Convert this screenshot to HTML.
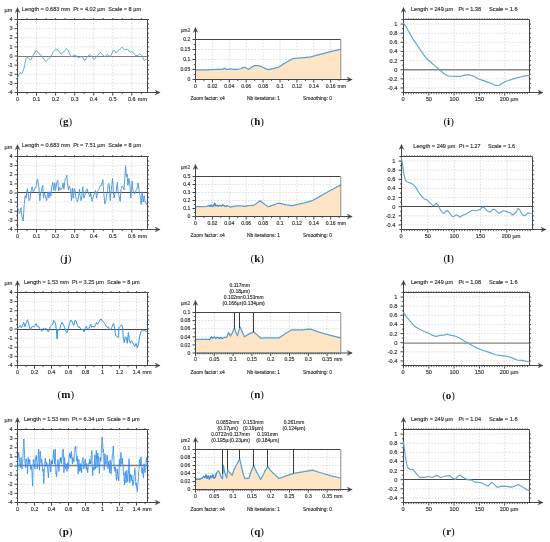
<!DOCTYPE html>
<html lang="en">
<head>
<meta charset="utf-8">
<title>Figure panels g-r</title>
<style>
html,body{margin:0;padding:0;background:#fff;}
body{width:550px;height:542px;overflow:hidden;}
svg{display:block;}
path{fill:none;}
text{white-space:pre;font-family:"Liberation Sans",sans-serif;fill:#303030;stroke:#303030;stroke-width:0.15px;}
.t1{font-size:5.5px;}
.t2{font-size:5.1px;}
.t3{font-size:5.6px;}
.lab{font-family:"Liberation Serif",serif;font-size:11px;fill:#111;stroke:none;}
.b{font-weight:bold;}
.cv{fill:none;stroke-linejoin:round;stroke-linecap:round;}
.ar{fill:#454545;stroke:#454545;stroke-width:0.3;stroke-linejoin:miter;}
.s0{stroke:#d4d4d4;stroke-width:0.8;stroke-dasharray:1.5 1.6;}
.s1{stroke:#7d7d7d;stroke-width:1.2;}
.s2{stroke:#454545;stroke-width:1.0;}
.s3{stroke:#454545;stroke-width:0.9;}
.s4{stroke:#4a4a4a;stroke-width:1.0;}
.s5{stroke:#7d7d7d;stroke-width:1.3;}
.s6{stroke:#707070;stroke-width:0.8;}
.s7{stroke:#3a3a3a;stroke-width:1.0;}
.s8{stroke:#858585;stroke-width:1.4;}
.s9{stroke:#5c5c5c;stroke-width:0.75;}
</style>
</head>
<body>
<svg width="550" height="542" viewBox="0 0 550 542">
<rect width="550" height="542" fill="#fff"/>
<g class="ch">
<g>
<path class="s0" d="M36.55 19.5V92.5M55.6 19.5V92.5M74.65 19.5V92.5M93.7 19.5V92.5M112.75 19.5V92.5M131.8 19.5V92.5M17.5 28.62H147.5M17.5 37.75H147.5M17.5 46.88H147.5M17.5 65.12H147.5M17.5 74.25H147.5M17.5 83.38H147.5"/>
<path class="s1" d="M17.5 56.5H147.5"/>
<path class="s2" d="M17.5 19.5H147.5M147.5 19.5V92.5M14.5 19.5H17.5M14.5 28.62H17.5M14.5 37.75H17.5M14.5 46.88H17.5M14.5 56H17.5M14.5 65.12H17.5M14.5 74.25H17.5M14.5 83.38H17.5M14.5 92.5H17.5M17.5 92.5V95.6M36.55 92.5V95.6M55.6 92.5V95.6M74.65 92.5V95.6M93.7 92.5V95.6M112.75 92.5V95.6M131.8 92.5V95.6M17.5 92.5V8.2M17.5 92.5H159.8"/>
<path class="s3" d="M147.5 19.5H149.1M15.9 24.06H17.5M147.5 24.06H149.1M147.5 28.62H149.1M15.9 33.19H17.5M147.5 33.19H149.1M147.5 37.75H149.1M15.9 42.31H17.5M147.5 42.31H149.1M147.5 46.88H149.1M15.9 51.44H17.5M147.5 51.44H149.1M147.5 56H149.1M15.9 60.56H17.5M147.5 60.56H149.1M147.5 65.12H149.1M15.9 69.69H17.5M147.5 69.69H149.1M147.5 74.25H149.1M15.9 78.81H17.5M147.5 78.81H149.1M147.5 83.38H149.1M15.9 87.94H17.5M147.5 87.94H149.1M147.5 92.5H149.1M27.02 92.5V94.1M27.02 18V19.5M36.55 18V19.5M46.08 92.5V94.1M46.08 18V19.5M55.6 18V19.5M65.12 92.5V94.1M65.12 18V19.5M74.65 18V19.5M84.17 92.5V94.1M84.17 18V19.5M93.7 18V19.5M103.23 92.5V94.1M103.23 18V19.5M112.75 18V19.5M122.28 92.5V94.1M122.28 18V19.5M131.8 18V19.5M141.32 92.5V94.1M141.32 18V19.5"/>
<path class="ar" d="M15.1 12.8L17.5 7.6L19.9 12.8L17.5 11ZM155 90.1L160.2 92.5L155 94.9L156.8 92.5Z"/>
<polyline class="cv" points="17.56,77.35 20.36,72.26 21.64,73.91 23.55,70.09 24.82,64.36 26.09,58.26 27.75,57.36 30.55,60.29 33.09,55.46 36.27,49.98 38.18,52.91 40.73,54.82 45.82,61.56 48.36,59.27 50.91,56.73 53.46,51.64 55.36,49.73 57.91,49.98 61.09,54.18 63,52.27 64.27,51.64 66.44,48.45 68.73,51 70.64,56.73 72.55,56.09 73.82,55.46 75.09,55.2 78.91,58 80,56.73 82.55,56.98 84.84,60.8 87.64,56.09 90.18,54.44 92.09,56.73 94.25,59.53 96.55,56.73 100.36,52.27 102.27,54.82 104.82,56.73 106.98,54.44 109.91,56.47 111.18,55.46 113.09,50.36 114.36,50.36 116.27,53.16 118.18,51 122,47.18 124.55,49.73 127.35,49.09 130.27,52.27 132.18,51.64 135.36,55.46 137.91,55.46 139.56,53.93 141.73,55.46 144.27,60.55 146.18,59.27 147.2,59.91" stroke="#5fa4d8" stroke-width="0.95"/>
<text class="t1" x="12.6" y="21.17" text-anchor="end">4</text>
<text class="t1" x="12.6" y="30.3" text-anchor="end">3</text>
<text class="t1" x="12.6" y="39.42" text-anchor="end">2</text>
<text class="t1" x="12.6" y="48.55" text-anchor="end">1</text>
<text class="t1" x="12.6" y="57.67" text-anchor="end">0</text>
<text class="t1" x="12.6" y="66.8" text-anchor="end">-1</text>
<text class="t1" x="12.6" y="75.92" text-anchor="end">-2</text>
<text class="t1" x="12.6" y="85.05" text-anchor="end">-3</text>
<text class="t1" x="12.6" y="94.17" text-anchor="end">-4</text>
<text class="t1" x="17.5" y="101.17" text-anchor="middle">0</text>
<text class="t1" x="36.55" y="101.17" text-anchor="middle">0.1</text>
<text class="t1" x="55.6" y="101.17" text-anchor="middle">0.2</text>
<text class="t1" x="74.65" y="101.17" text-anchor="middle">0.3</text>
<text class="t1" x="93.7" y="101.17" text-anchor="middle">0.4</text>
<text class="t1" x="112.75" y="101.17" text-anchor="middle">0.5</text>
<text class="t1" x="131.8" y="101.17" text-anchor="middle">0.6</text>
<text class="t1" x="137.8" y="101.17">mm</text>
<text class="t1" x="4.6" y="12.37">&#181;m</text>
<text class="t1" x="22" y="10.97" textLength="119.1" lengthAdjust="spacingAndGlyphs" xml:space="preserve">Length = 0.683 mm  Pt = 4.02 &#181;m  Scale = 8 &#181;m</text>
</g>
<g>
<path class="s0" d="M36.55 156.5V229.5M55.6 156.5V229.5M74.65 156.5V229.5M93.7 156.5V229.5M112.75 156.5V229.5M131.8 156.5V229.5M17.5 165.62H147.5M17.5 174.75H147.5M17.5 183.88H147.5M17.5 202.12H147.5M17.5 211.25H147.5M17.5 220.38H147.5"/>
<path class="s4" d="M17.5 192.5H147.5"/>
<path class="s2" d="M17.5 156.5H147.5M147.5 156.5V229.5M14.5 156.5H17.5M14.5 165.62H17.5M14.5 174.75H17.5M14.5 183.88H17.5M14.5 193H17.5M14.5 202.12H17.5M14.5 211.25H17.5M14.5 220.38H17.5M14.5 229.5H17.5M17.5 229.5V232.6M36.55 229.5V232.6M55.6 229.5V232.6M74.65 229.5V232.6M93.7 229.5V232.6M112.75 229.5V232.6M131.8 229.5V232.6M17.5 229.5V145.2M17.5 229.5H159.8"/>
<path class="s3" d="M147.5 156.5H149.1M15.9 161.06H17.5M147.5 161.06H149.1M147.5 165.62H149.1M15.9 170.19H17.5M147.5 170.19H149.1M147.5 174.75H149.1M15.9 179.31H17.5M147.5 179.31H149.1M147.5 183.88H149.1M15.9 188.44H17.5M147.5 188.44H149.1M147.5 193H149.1M15.9 197.56H17.5M147.5 197.56H149.1M147.5 202.12H149.1M15.9 206.69H17.5M147.5 206.69H149.1M147.5 211.25H149.1M15.9 215.81H17.5M147.5 215.81H149.1M147.5 220.38H149.1M15.9 224.94H17.5M147.5 224.94H149.1M147.5 229.5H149.1M27.02 229.5V231.1M27.02 155V156.5M36.55 155V156.5M46.08 229.5V231.1M46.08 155V156.5M55.6 155V156.5M65.12 229.5V231.1M65.12 155V156.5M74.65 155V156.5M84.17 229.5V231.1M84.17 155V156.5M93.7 155V156.5M103.23 229.5V231.1M103.23 155V156.5M112.75 155V156.5M122.28 229.5V231.1M122.28 155V156.5M131.8 155V156.5M141.32 229.5V231.1M141.32 155V156.5"/>
<path class="ar" d="M15.1 149.8L17.5 144.6L19.9 149.8L17.5 148ZM155 227.1L160.2 229.5L155 231.9L156.8 229.5Z"/>
<polyline class="cv" points="17.56,207.09 18,208.94 18.45,209.64 18.9,211.1 19.35,213.46 19.86,212.7 20.36,210.27 20.68,208.61 21,207.73 21.45,212.61 21.89,216 22.52,217.93 23.16,221.09 23.67,213.19 24.18,204.55 24.69,199.37 25.2,195.64 25.64,197.27 26.09,198.18 26.73,192.75 27.36,188.64 27.8,191.88 28.25,194.36 28.63,197.15 29.02,200.73 29.66,199.48 30.29,196.91 30.73,192.76 31.18,190.55 31.62,189.07 32.07,186.73 32.58,188.77 33.09,191.82 33.73,191.68 34.36,189.91 35.12,187.58 35.89,187.36 36.27,185.27 36.65,181.64 37.16,179.73 37.67,179.09 38.05,182.72 38.44,184.18 38.82,187 39.2,190.55 39.52,196.63 39.84,200.73 40.28,196.36 40.73,193.09 41.24,191.62 41.75,189.27 42.25,186.94 42.76,185.46 43.14,192.39 43.53,198.18 44.04,194.68 44.55,193.09 45.05,195.47 45.56,196.91 46.07,198.04 46.58,200.73 46.97,198.37 47.35,194.36 47.73,192.47 48.11,191.82 48.55,195.75 49,198.18 49.45,194.62 49.89,191.82 50.4,194.42 50.91,196.27 51.29,191.01 51.67,186.73 52.18,185.35 52.69,182.27 53.2,185.75 53.71,190.55 54.22,187.3 54.73,182.91 55.11,185.95 55.49,190.55 56,188.04 56.51,184.18 57.14,181.71 57.78,180.36 58.29,186.71 58.8,191.18 59.31,188.4 59.82,187.36 60.33,189.15 60.84,189.91 61.35,188.5 61.86,188.64 62.5,186.51 63.13,182.91 63.51,185.09 63.89,189.27 64.4,185.71 64.91,180.36 65.42,178.54 65.93,177.82 66.31,177.63 66.69,175.27 67.07,178.35 67.46,182.27 67.97,186.74 68.47,189.91 68.98,187.09 69.49,186.09 70,188.45 70.51,189.91 71.02,194.61 71.53,200.73 71.91,194.73 72.29,188 72.8,192.25 73.31,198.18 73.69,194.33 74.07,188.64 74.58,188.82 75.09,190.55 75.6,195.37 76.11,198.18 76.75,199.52 77.38,202 78.02,199.69 78.66,195.64 79.1,191.67 79.55,189.27 79.78,193.23 80,195.64 80.51,197.5 81.02,200.73 81.47,199.16 81.91,195.64 82.35,190.13 82.8,186.73 83.31,193.15 83.82,198.18 84.45,195.43 85.09,194.36 85.6,192.83 86.11,190.55 86.75,189.04 87.38,189.27 87.89,192.01 88.4,193.09 89.03,193.91 89.67,196.91 90.18,195.96 90.69,193.09 91.32,196.68 91.96,201.36 92.6,199.76 93.24,196.91 93.75,194.79 94.25,194.36 94.89,192.8 95.53,190.55 96.04,193.68 96.55,198.18 97.06,195.46 97.56,191.82 98.07,190.44 98.58,189.91 99.22,188.7 99.85,186.73 100.36,185.49 100.87,186.09 101.38,185.56 101.89,184.18 102.4,181.43 102.91,179.73 103.29,186.41 103.67,191.82 104.18,196.86 104.69,203.91 105.32,202.71 105.96,200.73 106.47,196.23 106.98,193.09 107.62,189.39 108.26,184.18 108.77,183.49 109.27,184.82 109.78,193.74 110.29,200.73 110.8,194 111.31,189.27 111.94,184.4 112.58,178.45 112.97,184.49 113.35,191.82 113.73,195.61 114.11,198.18 114.62,194.62 115.13,193.09 115.77,192.89 116.4,190.55 116.91,185.96 117.42,182.27 117.8,188.15 118.18,193.09 118.69,194.49 119.2,196.91 119.71,199.64 120.22,201.36 120.6,194.61 120.98,189.27 121.49,188.46 122,186.09 122.63,186.19 123.27,187.36 123.66,188.97 124.04,189.91 124.42,183.85 124.8,179.09 125.18,173.02 125.56,165.73 125.94,170.37 126.33,176.55 126.71,176.34 127.09,174 127.47,178.87 127.86,185.46 128.37,182.68 128.87,178.45 129.38,180.51 129.89,184.18 130.4,192.03 130.91,198.18 131.55,189.22 132.18,181 132.56,186.8 132.95,190.55 133.45,190.89 133.96,193.09 134.73,193.78 135.49,192.46 136.12,189.92 136.76,189.27 137.4,186.72 138.04,182.91 138.55,186.09 139.06,190.55 139.56,193.5 140.07,195.64 140.58,199.28 141.09,204.55 141.6,198.56 142.11,191.82 142.62,196.53 143.13,202 143.64,199.31 144.15,195.64 144.66,198.69 145.16,202.64 145.67,203.55 146.18,203.27 146.56,203.54 146.95,204.55" stroke="#4a96dc" stroke-width="0.95"/>
<text class="t1" x="12.6" y="157.77" text-anchor="end">4</text>
<text class="t1" x="12.6" y="166.9" text-anchor="end">3</text>
<text class="t1" x="12.6" y="176.02" text-anchor="end">2</text>
<text class="t1" x="12.6" y="185.15" text-anchor="end">1</text>
<text class="t1" x="12.6" y="194.27" text-anchor="end">0</text>
<text class="t1" x="12.6" y="203.4" text-anchor="end">-1</text>
<text class="t1" x="12.6" y="212.52" text-anchor="end">-2</text>
<text class="t1" x="12.6" y="221.65" text-anchor="end">-3</text>
<text class="t1" x="12.6" y="230.77" text-anchor="end">-4</text>
<text class="t1" x="17.5" y="237.77" text-anchor="middle">0</text>
<text class="t1" x="36.55" y="237.77" text-anchor="middle">0.1</text>
<text class="t1" x="55.6" y="237.77" text-anchor="middle">0.2</text>
<text class="t1" x="74.65" y="237.77" text-anchor="middle">0.3</text>
<text class="t1" x="93.7" y="237.77" text-anchor="middle">0.4</text>
<text class="t1" x="112.75" y="237.77" text-anchor="middle">0.5</text>
<text class="t1" x="131.8" y="237.77" text-anchor="middle">0.6</text>
<text class="t1" x="137.8" y="237.77">mm</text>
<text class="t1" x="4.6" y="148.97">&#181;m</text>
<text class="t1" x="22" y="147.47" textLength="119.1" lengthAdjust="spacingAndGlyphs" xml:space="preserve">Length = 0.683 mm  Pt = 7.51 &#181;m  Scale = 8 &#181;m</text>
</g>
<g>
<path class="s0" d="M34.5 292.5V365.5M51.5 292.5V365.5M68.5 292.5V365.5M85.5 292.5V365.5M102.5 292.5V365.5M119.5 292.5V365.5M136.5 292.5V365.5M17.5 301.62H147.5M17.5 310.75H147.5M17.5 319.88H147.5M17.5 338.12H147.5M17.5 347.25H147.5M17.5 356.38H147.5"/>
<path class="s4" d="M17.5 329.5H147.5"/>
<path class="s2" d="M17.5 292.5H147.5M147.5 292.5V365.5M14.5 292.5H17.5M14.5 301.62H17.5M14.5 310.75H17.5M14.5 319.88H17.5M14.5 329H17.5M14.5 338.12H17.5M14.5 347.25H17.5M14.5 356.38H17.5M14.5 365.5H17.5M17.5 365.5V368.6M34.5 365.5V368.6M51.5 365.5V368.6M68.5 365.5V368.6M85.5 365.5V368.6M102.5 365.5V368.6M119.5 365.5V368.6M136.5 365.5V368.6M17.5 365.5V281.2M17.5 365.5H159.8"/>
<path class="s3" d="M147.5 292.5H149.1M15.9 297.06H17.5M147.5 297.06H149.1M147.5 301.62H149.1M15.9 306.19H17.5M147.5 306.19H149.1M147.5 310.75H149.1M15.9 315.31H17.5M147.5 315.31H149.1M147.5 319.88H149.1M15.9 324.44H17.5M147.5 324.44H149.1M147.5 329H149.1M15.9 333.56H17.5M147.5 333.56H149.1M147.5 338.12H149.1M15.9 342.69H17.5M147.5 342.69H149.1M147.5 347.25H149.1M15.9 351.81H17.5M147.5 351.81H149.1M147.5 356.38H149.1M15.9 360.94H17.5M147.5 360.94H149.1M147.5 365.5H149.1M26 365.5V367.1M26 291V292.5M34.5 291V292.5M43 365.5V367.1M43 291V292.5M51.5 291V292.5M60 365.5V367.1M60 291V292.5M68.5 291V292.5M77 365.5V367.1M77 291V292.5M85.5 291V292.5M94 365.5V367.1M94 291V292.5M102.5 291V292.5M111 365.5V367.1M111 291V292.5M119.5 291V292.5M128 365.5V367.1M128 291V292.5M136.5 291V292.5M145 365.5V367.1M145 291V292.5"/>
<path class="ar" d="M15.1 285.8L17.5 280.6L19.9 285.8L17.5 284ZM155 363.1L160.2 365.5L155 367.9L156.8 365.5Z"/>
<polyline class="cv" points="17.56,328.64 19.09,326.73 20.36,325.46 21.38,328 22.4,325.46 23.67,322.27 24.95,326.73 26.22,322.91 27.49,319.73 28.76,324.18 30.29,329.91 31.82,326.73 33.35,326.73 34.87,326.09 36.15,323.55 37.42,326.73 38.95,326.73 40.47,329.91 42,331.18 43.27,328 44.55,329.27 45.82,328 47.35,331.18 48.62,331.82 50.15,326.73 51.42,325.46 52.69,324.18 53.71,320.36 54.73,321.64 55.49,323.55 56.26,328.64 57.02,338.82 57.78,329.27 58.8,330.55 59.82,328.64 60.84,324.82 62.11,322.27 63.38,324.82 64.66,327.36 65.67,330.55 66.69,333.09 67.96,329.91 69.24,324.82 70.51,320.36 71.53,320.36 72.55,322.91 73.82,325.46 75.09,320.36 76.11,321 77.38,325.46 78.4,327.36 79.67,326.73 80,328 81.53,329.27 83.05,329.91 84.07,331.82 85.09,328.64 86.36,326.09 87.38,329.27 88.4,329.91 89.67,326.73 90.69,324.18 91.71,327.36 92.98,326.09 94.25,327.36 95.53,324.82 96.55,322.27 97.56,324.18 98.84,322.27 100.11,319.73 101.13,319.09 102.4,321 103.42,321.64 104.69,323.55 105.96,326.09 107.24,327.36 108.26,326.73 109.53,329.27 110.55,329.91 111.82,327.36 112.84,324.18 113.6,323.55 114.62,328 115.64,335.64 116.91,336.27 118.18,337.55 119.2,327.36 120.47,326.09 121.49,324.82 122.51,326.73 123.27,336.91 124.29,342.64 125.31,336.91 126.33,337.55 127.35,343.27 128.36,332.46 129.38,340.73 130.4,343.27 131.42,340.73 132.44,342 133.71,344.55 134.73,346.46 136,343.27 137.27,347.73 138.55,343.91 139.56,336.91 140.84,331.82 142.36,329.91 143.64,331.18 144.91,330.55 146.18,331.18 147.2,331.82" stroke="#338fee" stroke-width="1.0"/>
<text class="t1" x="12.6" y="294.17" text-anchor="end">4</text>
<text class="t1" x="12.6" y="303.3" text-anchor="end">3</text>
<text class="t1" x="12.6" y="312.42" text-anchor="end">2</text>
<text class="t1" x="12.6" y="321.55" text-anchor="end">1</text>
<text class="t1" x="12.6" y="330.67" text-anchor="end">0</text>
<text class="t1" x="12.6" y="339.8" text-anchor="end">-1</text>
<text class="t1" x="12.6" y="348.92" text-anchor="end">-2</text>
<text class="t1" x="12.6" y="358.05" text-anchor="end">-3</text>
<text class="t1" x="12.6" y="367.17" text-anchor="end">-4</text>
<text class="t1" x="17.5" y="374.17" text-anchor="middle">0</text>
<text class="t1" x="34.5" y="374.17" text-anchor="middle">0.2</text>
<text class="t1" x="51.5" y="374.17" text-anchor="middle">0.4</text>
<text class="t1" x="68.5" y="374.17" text-anchor="middle">0.6</text>
<text class="t1" x="85.5" y="374.17" text-anchor="middle">0.8</text>
<text class="t1" x="102.5" y="374.17" text-anchor="middle">1</text>
<text class="t1" x="119.5" y="374.17" text-anchor="middle">1.2</text>
<text class="t1" x="136.5" y="374.17" text-anchor="middle">1.4</text>
<text class="t1" x="142.5" y="374.17">mm</text>
<text class="t1" x="4.6" y="285.37">&#181;m</text>
<text class="t1" x="23.9" y="283.67" textLength="115.8" lengthAdjust="spacingAndGlyphs" xml:space="preserve">Length = 1.53 mm  Pt = 3.25 &#181;m  Scale = 8 &#181;m</text>
</g>
<g>
<path class="s0" d="M34.5 429.5V502.5M51.5 429.5V502.5M68.5 429.5V502.5M85.5 429.5V502.5M102.5 429.5V502.5M119.5 429.5V502.5M136.5 429.5V502.5M17.5 438.62H147.5M17.5 447.75H147.5M17.5 456.88H147.5M17.5 475.12H147.5M17.5 484.25H147.5M17.5 493.38H147.5"/>
<path class="s5" d="M17.5 465.5H147.5"/>
<path class="s2" d="M17.5 429.5H147.5M147.5 429.5V502.5M14.5 429.5H17.5M14.5 438.62H17.5M14.5 447.75H17.5M14.5 456.88H17.5M14.5 466H17.5M14.5 475.12H17.5M14.5 484.25H17.5M14.5 493.38H17.5M14.5 502.5H17.5M17.5 502.5V505.6M34.5 502.5V505.6M51.5 502.5V505.6M68.5 502.5V505.6M85.5 502.5V505.6M102.5 502.5V505.6M119.5 502.5V505.6M136.5 502.5V505.6M17.5 502.5V418.2M17.5 502.5H159.8"/>
<path class="s3" d="M147.5 429.5H149.1M15.9 434.06H17.5M147.5 434.06H149.1M147.5 438.62H149.1M15.9 443.19H17.5M147.5 443.19H149.1M147.5 447.75H149.1M15.9 452.31H17.5M147.5 452.31H149.1M147.5 456.88H149.1M15.9 461.44H17.5M147.5 461.44H149.1M147.5 466H149.1M15.9 470.56H17.5M147.5 470.56H149.1M147.5 475.12H149.1M15.9 479.69H17.5M147.5 479.69H149.1M147.5 484.25H149.1M15.9 488.81H17.5M147.5 488.81H149.1M147.5 493.38H149.1M15.9 497.94H17.5M147.5 497.94H149.1M147.5 502.5H149.1M26 502.5V504.1M26 428V429.5M34.5 428V429.5M43 502.5V504.1M43 428V429.5M51.5 428V429.5M60 502.5V504.1M60 428V429.5M68.5 428V429.5M77 502.5V504.1M77 428V429.5M85.5 428V429.5M94 502.5V504.1M94 428V429.5M102.5 428V429.5M111 502.5V504.1M111 428V429.5M119.5 428V429.5M128 502.5V504.1M128 428V429.5M136.5 428V429.5M145 502.5V504.1M145 428V429.5"/>
<path class="ar" d="M15.1 422.8L17.5 417.6L19.9 422.8L17.5 421ZM155 500.1L160.2 502.5L155 504.9L156.8 502.5Z"/>
<polyline class="cv" points="17.56,472.73 17.73,468.9 17.9,461.58 18.07,457.46 18.33,457.57 18.58,453.22 18.84,452.36 19.09,457.38 19.35,457.82 19.6,462.55 19.85,465.06 20.11,464.37 20.36,467.64 20.62,465.03 20.87,459.4 21.13,457.46 21.38,462.11 21.64,464.22 21.89,468.91 22.14,468.22 22.4,462.56 22.65,462.55 22.91,458.38 23.16,451.27 23.42,447.27 23.59,446.29 23.76,439.44 23.93,439 24.18,446.84 24.44,449.92 24.69,457.46 24.94,463.21 25.2,463.45 25.45,467.64 25.71,466.83 25.96,460.49 26.22,458.73 26.47,460.97 26.73,460.36 26.98,462.55 27.15,467.6 27.32,468.09 27.49,474 27.74,469.51 28,461.28 28.25,457.46 28.51,461.37 28.76,460.35 29.02,463.82 29.27,463.97 29.53,460.02 29.78,459.36 30.04,463.36 30.29,464.66 30.55,468.91 30.8,469.5 31.06,464.92 31.31,465.09 31.56,469.31 31.82,469.33 32.07,474 32.24,479.51 32.41,480.84 32.58,486.09 32.84,479.23 33.09,466.38 33.35,459.36 33.6,461.55 33.86,459.8 34.11,462.55 34.36,466.27 34.62,464.6 34.87,468.91 35.13,467.04 35.38,460.07 35.64,457.46 35.89,459.19 36.15,455.27 36.4,455.55 36.65,461.43 36.91,462.46 37.16,468.91 37.42,467.77 37.67,463.13 37.93,462.55 38.18,458.88 38.44,451.79 38.69,449.18 38.95,458.18 39.2,461.5 39.46,470.18 39.71,466.01 39.97,456.21 40.22,451.09 40.47,456.8 40.73,457.01 40.98,462.55 41.24,463.18 41.49,458.94 41.75,459.36 42,464.67 42.26,463.42 42.51,468.91 42.76,471.28 43.02,468.77 43.27,471.46 43.44,476.31 43.61,477.62 43.78,483.55 44.04,480.05 44.29,470.55 44.55,467.64 44.8,466.56 45.06,460.08 45.31,458.09 45.56,462.21 45.82,461.76 46.07,466.36 46.33,465.85 46.58,462.32 46.84,462.55 47.09,465.67 47.35,465.87 47.6,468.91 47.85,472.7 48.11,472.84 48.36,477.82 48.62,474.09 48.87,467.35 49.13,463.82 49.38,463.92 49.64,459.09 49.89,460 50.15,464.89 50.4,466.59 50.66,472.09 50.91,469.92 51.17,462.25 51.42,460.64 51.67,463.8 51.93,460.59 52.18,463.82 52.44,463.52 52.69,459.43 52.95,459.36 53.2,457.5 53.46,450.79 53.71,449.82 53.96,456.82 54.22,458.18 54.47,463.82 54.73,459.96 54.98,452.95 55.24,449.18 55.41,457.29 55.58,461.65 55.75,470.18 56,474.01 56.26,473.27 56.51,476.55 56.76,473.88 57.02,468.33 57.27,466.36 57.53,465.37 57.78,460.02 58.04,459.36 58.29,465.71 58.55,465.55 58.8,471.46 59.05,470.29 59.31,464.18 59.56,463.18 59.82,463.13 60.07,458.56 60.33,457.46 60.58,461.39 60.84,458.82 61.09,462.55 61.35,463.68 61.6,458.36 61.86,459.36 62.11,457.98 62.37,452.46 62.62,451.09 62.87,451.77 63.13,448.88 63.38,450.45 63.55,458.7 63.72,464.47 63.89,472.73 64.15,468.71 64.4,461.56 64.66,457.46 64.91,462.57 65.17,464.29 65.42,468.91 65.67,467.93 65.93,464.54 66.18,463.82 66.44,467.26 66.69,467.58 66.95,471.46 67.2,469.25 67.46,463.33 67.71,462.55 67.96,466.42 68.22,465.82 68.47,468.91 68.73,465.39 68.98,458.27 69.24,454.91 69.49,455.61 69.75,452.71 70,453 70.25,457.06 70.51,454.43 70.76,458.73 71.02,457.69 71.27,452.1 71.53,451.09 71.78,456.2 72.04,458.68 72.29,463.82 72.55,463 72.8,458.42 73.06,457.46 73.31,461.06 73.57,459.44 73.82,461.91 74.07,459.49 74.33,453.23 74.58,452.36 74.84,452.27 75.09,448 75.35,447.27 75.52,448.69 75.69,446.08 75.86,446.64 76.11,452.7 76.37,453.18 76.62,460 76.87,461.32 77.13,456.42 77.38,457.46 77.64,464.13 77.89,467.15 78.15,474 78.4,470.12 78.66,462.22 78.91,459.36 79.16,464.58 79.42,464.54 79.67,470.18 79.78,471.45 79.89,469.09 80,470.18 80.25,470.14 80.51,463.57 80.76,463.82 81.02,468.94 81.27,467.69 81.53,472.73 81.78,471 82.04,463.13 82.29,461.27 82.54,461.31 82.8,457.56 83.05,458.09 83.31,463.01 83.56,464.53 83.82,468.91 84.07,467.56 84.33,463.48 84.58,462.55 84.84,462.86 85.09,458.97 85.35,460 85.6,464.87 85.86,463.62 86.11,467.64 86.36,469.08 86.62,463.56 86.87,465.09 87.13,469.96 87.38,468.85 87.64,472.73 87.89,471.7 88.15,467.38 88.4,466.36 88.65,466.14 88.91,462.76 89.16,462.55 89.42,463.68 89.67,459.04 89.93,460.64 90.18,463.83 90.44,461.23 90.69,463.82 90.94,462.67 91.2,455.82 91.45,454.91 91.62,454.5 91.79,450.53 91.96,451.09 92.13,461.61 92.3,465.6 92.47,475.91 92.73,475.13 92.98,468.87 93.24,467.64 93.49,469.51 93.75,467.29 94,470.18 94.25,466.37 94.51,457.93 94.76,454.91 95.02,461.93 95.27,462.86 95.53,468.91 95.78,464.15 96.04,454.29 96.29,450.45 96.54,458.12 96.8,460.9 97.05,467.64 97.31,463.69 97.56,456.91 97.82,453 98.07,458 98.33,456.44 98.58,461.27 98.84,466.27 99.09,467.22 99.35,473.36 99.6,470.43 99.86,460.94 100.11,457.46 100.36,460.04 100.62,458.36 100.87,461.27 101.13,456.7 101.38,449.5 101.64,444.73 101.81,444.53 101.98,437.83 102.15,437.09 102.4,442.94 102.66,443.29 102.91,449.82 103.16,452.12 103.42,449.33 103.67,452.36 103.84,460.41 104.01,463.17 104.18,470.18 104.44,465.81 104.69,457.94 104.95,453.64 105.2,458.16 105.46,458.72 105.71,463.82 105.96,464.76 106.22,461.97 106.47,463.18 106.73,461.36 106.98,455.42 107.24,454.91 107.49,460.89 107.75,462.75 108,468.91 108.25,468.06 108.51,461.58 108.76,461.27 109.02,466.52 109.27,466.65 109.53,472.73 109.78,470.05 110.04,462.63 110.29,460 110.55,466.27 110.8,468.58 111.06,474 111.31,471.22 111.57,464.49 111.82,461.27 112.07,459.88 112.33,454.97 112.58,454.91 112.84,452.95 113.09,447.45 113.35,446 113.6,454.72 113.86,457.92 114.11,466.36 114.36,468.9 114.62,467.32 114.87,470.18 115.13,471.41 115.38,467.3 115.64,468.91 115.89,473.62 116.15,474.88 116.4,480.36 116.65,477.68 116.91,471.54 117.16,468.91 117.42,473.05 117.67,471.58 117.93,475.27 118.18,478.84 118.44,477.09 118.69,481 118.95,476.04 119.2,465.11 119.46,459.36 119.71,463.44 119.97,462.46 120.22,466.36 120.47,463.27 120.73,455.14 120.98,452.36 121.24,457.66 121.49,458.38 121.75,463.82 122,463.65 122.26,458.12 122.51,458.73 122.76,464.44 123.02,464.17 123.27,470.18 123.53,474.61 123.78,473.27 124.04,476.55 124.21,480.97 124.38,479.76 124.55,484.82 124.8,482.5 125.06,474.96 125.31,471.46 125.56,476.2 125.82,477.63 126.07,482.91 126.33,479.51 126.58,473.3 126.84,470.18 127.09,474.84 127.35,475.98 127.6,481.64 127.85,481.13 128.11,474.32 128.36,474 128.62,469.89 128.87,461.9 129.13,458.73 129.3,468.62 129.47,473.89 129.64,482.91 129.89,482.14 130.15,474.62 130.4,474 130.65,477.21 130.91,475.92 131.16,480.36 131.42,480.05 131.67,475.43 131.93,475.27 132.18,481.05 132.44,479.94 132.69,485.46 132.95,485.6 133.2,482.32 133.46,482.91 133.71,481.95 133.97,476.53 134.22,475.27 134.47,473.99 134.73,469.35 134.98,468.27 135.24,475.08 135.49,477.28 135.75,482.91 136,485.41 136.26,483.15 136.51,485.46 136.76,488.33 137.02,488.42 137.27,491.82 137.53,490.62 137.78,484.3 138.04,482.91 138.29,479.92 138.55,472.9 138.8,471.46 139.05,469.47 139.31,461.04 139.56,459.36 139.82,462.17 140.07,462.01 140.33,465.09 140.58,463.12 140.84,457.55 141.09,456.82 141.35,463.3 141.6,466.49 141.86,472.73 142.11,472.89 142.37,467.93 142.62,468.91 142.87,473.98 143.13,473.7 143.38,477.82 143.64,474.12 143.89,466.22 144.15,463.82 144.4,468.47 144.66,467.86 144.91,472.73 145.16,472.33 145.42,469.37 145.67,468.91 145.93,466.97 146.18,459.84 146.44,457.46 146.69,460.84 146.95,460.25 147.2,465.09" stroke="#338fee" stroke-width="0.85"/>
<text class="t1" x="12.6" y="430.77" text-anchor="end">4</text>
<text class="t1" x="12.6" y="439.9" text-anchor="end">3</text>
<text class="t1" x="12.6" y="449.02" text-anchor="end">2</text>
<text class="t1" x="12.6" y="458.15" text-anchor="end">1</text>
<text class="t1" x="12.6" y="467.27" text-anchor="end">0</text>
<text class="t1" x="12.6" y="476.4" text-anchor="end">-1</text>
<text class="t1" x="12.6" y="485.52" text-anchor="end">-2</text>
<text class="t1" x="12.6" y="494.65" text-anchor="end">-3</text>
<text class="t1" x="12.6" y="503.77" text-anchor="end">-4</text>
<text class="t1" x="17.5" y="510.77" text-anchor="middle">0</text>
<text class="t1" x="34.5" y="510.77" text-anchor="middle">0.2</text>
<text class="t1" x="51.5" y="510.77" text-anchor="middle">0.4</text>
<text class="t1" x="68.5" y="510.77" text-anchor="middle">0.6</text>
<text class="t1" x="85.5" y="510.77" text-anchor="middle">0.8</text>
<text class="t1" x="102.5" y="510.77" text-anchor="middle">1</text>
<text class="t1" x="119.5" y="510.77" text-anchor="middle">1.2</text>
<text class="t1" x="136.5" y="510.77" text-anchor="middle">1.4</text>
<text class="t1" x="142.5" y="510.77">mm</text>
<text class="t1" x="4.6" y="421.97">&#181;m</text>
<text class="t1" x="23.9" y="420.67" textLength="115.8" lengthAdjust="spacingAndGlyphs" xml:space="preserve">Length = 1.53 mm  Pt = 6.34 &#181;m  Scale = 8 &#181;m</text>
</g>
<g>
<path class="s0" d="M212.4 39.5V79.5M229.3 39.5V79.5M246.2 39.5V79.5M263.1 39.5V79.5M280 39.5V79.5M296.9 39.5V79.5M313.8 39.5V79.5M330.7 39.5V79.5M195.5 49.5H340.5M195.5 59.5H340.5M195.5 69.5H340.5"/>
<polygon points="195.5,79.5 195.5,69.91 200.73,69.91 206.55,69.91 212.36,69.62 218.18,69.47 222.55,69.33 224.73,68.16 226.18,69.33 229.09,69.33 230.98,68.75 233.45,69.47 237.09,69.47 240.73,68.75 242.91,67.58 244.65,67.29 246.55,68.16 248.44,69.33 250.18,68.16 252.36,66.56 254.55,65.69 257.45,65.55 259.64,65.84 261.82,66.71 264.73,68.16 265,68.55 268.27,69.69 273.18,68.55 278.91,67.07 285.45,62.82 292.49,58.73 297.73,58.24 304.27,57.58 310.82,56.93 319,54.64 330.46,51.69 337,50.05 340.5,49.24 340.5,79.5" fill="#fee5c6"/>
<polyline class="cv" points="195.5,69.91 200.73,69.91 206.55,69.91 212.36,69.62 218.18,69.47 222.55,69.33 224.73,68.16 226.18,69.33 229.09,69.33 230.98,68.75 233.45,69.47 237.09,69.47 240.73,68.75 242.91,67.58 244.65,67.29 246.55,68.16 248.44,69.33 250.18,68.16 252.36,66.56 254.55,65.69 257.45,65.55 259.64,65.84 261.82,66.71 264.73,68.16 265,68.55 268.27,69.69 273.18,68.55 278.91,67.07 285.45,62.82 292.49,58.73 297.73,58.24 304.27,57.58 310.82,56.93 319,54.64 330.46,51.69 337,50.05 340.5,49.24" stroke="#5a9fd4" stroke-width="1.25"/>
<path class="s2" d="M195.5 39.5H340.5M192.5 39.5H195.5M192.5 49.5H195.5M192.5 59.5H195.5M192.5 69.5H195.5M192.5 79.5H195.5M195.5 79.5V82.6M212.4 79.5V82.6M229.3 79.5V82.6M246.2 79.5V82.6M263.1 79.5V82.6M280 79.5V82.6M296.9 79.5V82.6M313.8 79.5V82.6M330.7 79.5V82.6M195.5 79.5V27.9M195.5 79.5H351.9"/>
<path class="s6" d="M340.8 39.5V79.5"/>
<path class="s3" d="M193.9 44.5H195.5M193.9 54.5H195.5M193.9 64.5H195.5M193.9 74.5H195.5M203.95 79.5V81.1M220.85 79.5V81.1M237.75 79.5V81.1M254.65 79.5V81.1M271.55 79.5V81.1M288.45 79.5V81.1M305.35 79.5V81.1M322.25 79.5V81.1M339.15 79.5V81.1"/>
<path class="ar" d="M193.1 32.5L195.5 27.3L197.9 32.5L195.5 30.7ZM347.1 77.1L352.3 79.5L347.1 81.9L348.9 79.5Z"/>
<text class="t2" x="190.3" y="41.1" text-anchor="end">0.2</text>
<text class="t2" x="190.3" y="51.12" text-anchor="end">0.15</text>
<text class="t2" x="190.3" y="61.15" text-anchor="end">0.1</text>
<text class="t2" x="190.3" y="71.17" text-anchor="end">0.05</text>
<text class="t2" x="190.3" y="81.2" text-anchor="end">0</text>
<text class="t2" x="195.5" y="88.2" text-anchor="middle">0</text>
<text class="t2" x="212.4" y="88.2" text-anchor="middle">0.02</text>
<text class="t2" x="229.3" y="88.2" text-anchor="middle">0.04</text>
<text class="t2" x="246.2" y="88.2" text-anchor="middle">0.06</text>
<text class="t2" x="263.1" y="88.2" text-anchor="middle">0.08</text>
<text class="t2" x="280" y="88.2" text-anchor="middle">0.1</text>
<text class="t2" x="296.9" y="88.2" text-anchor="middle">0.12</text>
<text class="t2" x="313.8" y="88.2" text-anchor="middle">0.14</text>
<text class="t2" x="330.7" y="88.2" text-anchor="middle">0.16</text>
<text class="t2" x="337.6" y="88.2">mm</text>
<text class="t2" x="180.9" y="32.2" textLength="9.1" lengthAdjust="spacingAndGlyphs" xml:space="preserve">&#181;m2</text>
<text class="t2" x="190.5" y="100.3" textLength="34.2" lengthAdjust="spacingAndGlyphs" xml:space="preserve">Zoom factor: x4</text>
<text class="t2" x="246.9" y="100.3" textLength="33" lengthAdjust="spacingAndGlyphs" xml:space="preserve">Nb iterations: 1</text>
<text class="t2" x="303" y="100.3" textLength="29.1" lengthAdjust="spacingAndGlyphs" xml:space="preserve">Smoothing: 0</text>
</g>
<g>
<path class="s0" d="M212.4 176.5V216.5M229.3 176.5V216.5M246.2 176.5V216.5M263.1 176.5V216.5M280 176.5V216.5M296.9 176.5V216.5M313.8 176.5V216.5M330.7 176.5V216.5M195.5 184.5H340.5M195.5 192.5H340.5M195.5 200.5H340.5M195.5 208.5H340.5"/>
<polygon points="195.5,216.5 195.5,206.64 200.73,206.64 206.55,206.35 208.73,205.62 210.18,206.35 211.2,204.75 212.36,206.64 213.82,205.91 214.69,203 215.56,205.91 217.02,205.33 218.47,206.2 219.93,205.33 221.38,205.91 222.84,204.75 224.29,205.91 225.75,206.49 226.91,205.62 229.09,206.49 230.55,207.07 233.45,206.35 237.09,205.91 241.45,205.91 245.09,206.35 248,205.62 251.64,205.47 253.82,205.33 256.73,203.29 260.07,200.82 263.27,203.29 265,204.55 268.27,206.67 273.18,205.04 278.09,203.24 281.36,203.73 286.27,204.87 292,205.53 297.73,204.38 304.27,202.91 311.64,200.95 319,196.86 327.18,192.27 335.36,187.69 340.5,185.07 340.5,216.5" fill="#fee5c6"/>
<polyline class="cv" points="195.5,206.64 200.73,206.64 206.55,206.35 208.73,205.62 210.18,206.35 211.2,204.75 212.36,206.64 213.82,205.91 214.69,203 215.56,205.91 217.02,205.33 218.47,206.2 219.93,205.33 221.38,205.91 222.84,204.75 224.29,205.91 225.75,206.49 226.91,205.62 229.09,206.49 230.55,207.07 233.45,206.35 237.09,205.91 241.45,205.91 245.09,206.35 248,205.62 251.64,205.47 253.82,205.33 256.73,203.29 260.07,200.82 263.27,203.29 265,204.55 268.27,206.67 273.18,205.04 278.09,203.24 281.36,203.73 286.27,204.87 292,205.53 297.73,204.38 304.27,202.91 311.64,200.95 319,196.86 327.18,192.27 335.36,187.69 340.5,185.07" stroke="#5a9fd4" stroke-width="1.25"/>
<polyline class="cv" points="208.73,205.62 210.18,206.35 211.2,204.75 212.36,206.64 213.82,205.91 214.69,203 215.56,205.91 217.02,205.33 218.47,206.2 219.93,205.33 221.38,205.91 222.84,204.75 224.29,205.91 225.75,206.49 226.91,205.62" stroke="#2f86e4" stroke-width="0.9"/>
<path class="s2" d="M195.5 176.5H340.5M192.5 176.5H195.5M192.5 184.5H195.5M192.5 192.5H195.5M192.5 200.5H195.5M192.5 208.5H195.5M192.5 216.5H195.5M195.5 216.5V219.6M212.4 216.5V219.6M229.3 216.5V219.6M246.2 216.5V219.6M263.1 216.5V219.6M280 216.5V219.6M296.9 216.5V219.6M313.8 216.5V219.6M330.7 216.5V219.6M195.5 216.5V164.9M195.5 216.5H351.9"/>
<path class="s6" d="M340.8 176.5V216.5"/>
<path class="s3" d="M193.9 180.5H195.5M193.9 188.5H195.5M193.9 196.5H195.5M193.9 204.5H195.5M193.9 212.5H195.5M203.95 216.5V218.1M220.85 216.5V218.1M237.75 216.5V218.1M254.65 216.5V218.1M271.55 216.5V218.1M288.45 216.5V218.1M305.35 216.5V218.1M322.25 216.5V218.1M339.15 216.5V218.1"/>
<path class="ar" d="M193.1 169.5L195.5 164.3L197.9 169.5L195.5 167.7ZM347.1 214.1L352.3 216.5L347.1 218.9L348.9 216.5Z"/>
<text class="t2" x="190.3" y="177.6" text-anchor="end">0.5</text>
<text class="t2" x="190.3" y="185.6" text-anchor="end">0.4</text>
<text class="t2" x="190.3" y="193.6" text-anchor="end">0.3</text>
<text class="t2" x="190.3" y="201.6" text-anchor="end">0.2</text>
<text class="t2" x="190.3" y="209.6" text-anchor="end">0.1</text>
<text class="t2" x="190.3" y="217.6" text-anchor="end">0</text>
<text class="t2" x="195.5" y="224.6" text-anchor="middle">0</text>
<text class="t2" x="212.4" y="224.6" text-anchor="middle">0.02</text>
<text class="t2" x="229.3" y="224.6" text-anchor="middle">0.04</text>
<text class="t2" x="246.2" y="224.6" text-anchor="middle">0.06</text>
<text class="t2" x="263.1" y="224.6" text-anchor="middle">0.08</text>
<text class="t2" x="280" y="224.6" text-anchor="middle">0.1</text>
<text class="t2" x="296.9" y="224.6" text-anchor="middle">0.12</text>
<text class="t2" x="313.8" y="224.6" text-anchor="middle">0.14</text>
<text class="t2" x="330.7" y="224.6" text-anchor="middle">0.16</text>
<text class="t2" x="337.6" y="224.6">mm</text>
<text class="t2" x="180.9" y="168.7" textLength="9.1" lengthAdjust="spacingAndGlyphs" xml:space="preserve">&#181;m2</text>
<text class="t2" x="190.5" y="236.7" textLength="34.2" lengthAdjust="spacingAndGlyphs" xml:space="preserve">Zoom factor: x4</text>
<text class="t2" x="246.9" y="236.7" textLength="33" lengthAdjust="spacingAndGlyphs" xml:space="preserve">Nb iterations: 1</text>
<text class="t2" x="303" y="236.7" textLength="29.1" lengthAdjust="spacingAndGlyphs" xml:space="preserve">Smoothing: 0</text>
</g>
<g>
<path class="s0" d="M214.3 312.5V353M233.1 312.5V353M251.9 312.5V353M270.7 312.5V353M289.5 312.5V353M308.3 312.5V353M327.1 312.5V353M195.5 320.6H340.5M195.5 328.7H340.5M195.5 336.8H340.5M195.5 344.9H340.5"/>
<polygon points="195.5,353 195.5,339.48 203.81,339.48 209.71,339.34 211.48,336.83 212.66,338.3 214.14,336.83 215.62,338.3 217.09,337.27 218.86,338.3 220.78,337.56 222.26,338.45 224.47,337.27 226.69,337.27 228.61,332.4 230.38,336.09 232.15,333.14 234.36,328.27 236.28,333.14 237.46,335.79 238.94,330.18 240.12,326.94 241.89,330.92 244.4,336.83 247.35,334.91 250.3,333.43 253.7,331.96 256.94,334.61 261.08,338.45 264.32,337.86 265,337.96 278.91,337.96 285.45,333.55 292,329.78 302.64,329.78 308.36,329.13 311.64,329.46 319,332.07 330.46,335.35 340.5,337.96 340.5,353" fill="#fee5c6"/>
<polyline class="cv" points="195.5,339.48 203.81,339.48 209.71,339.34 211.48,336.83 212.66,338.3 214.14,336.83 215.62,338.3 217.09,337.27 218.86,338.3 220.78,337.56 222.26,338.45 224.47,337.27 226.69,337.27 228.61,332.4 230.38,336.09 232.15,333.14 234.36,328.27 236.28,333.14 237.46,335.79 238.94,330.18 240.12,326.94 241.89,330.92 244.4,336.83 247.35,334.91 250.3,333.43 253.7,331.96 256.94,334.61 261.08,338.45 264.32,337.86 265,337.96 278.91,337.96 285.45,333.55 292,329.78 302.64,329.78 308.36,329.13 311.64,329.46 319,332.07 330.46,335.35 340.5,337.96" stroke="#5a9fd4" stroke-width="1.25"/>
<polyline class="cv" points="209.71,339.34 211.48,336.83 212.66,338.3 214.14,336.83 215.62,338.3 217.09,337.27 218.86,338.3 220.78,337.56 222.26,338.45" stroke="#2f86e4" stroke-width="0.9"/>
<path class="s7" d="M234.5 312.5V328.94M239.5 312.5V328.07M253.5 312.5V332.14"/>
<path class="s2" d="M195.5 312.5H340.5M192.5 312.5H195.5M192.5 320.6H195.5M192.5 328.7H195.5M192.5 336.8H195.5M192.5 344.9H195.5M192.5 353H195.5M195.5 353V356.1M214.3 353V356.1M233.1 353V356.1M251.9 353V356.1M270.7 353V356.1M289.5 353V356.1M308.3 353V356.1M327.1 353V356.1M195.5 353V300.9M195.5 353H351.9"/>
<path class="s6" d="M340.8 312.5V353"/>
<path class="s3" d="M193.9 316.55H195.5M193.9 324.65H195.5M193.9 332.75H195.5M193.9 340.85H195.5M193.9 348.95H195.5M197.38 353V354.3M199.26 353V354.3M201.14 353V354.3M203.02 353V354.3M204.9 353V354.3M206.78 353V354.3M208.66 353V354.3M210.54 353V354.3M212.42 353V354.3M216.18 353V354.3M218.06 353V354.3M219.94 353V354.3M221.82 353V354.3M223.7 353V354.3M225.58 353V354.3M227.46 353V354.3M229.34 353V354.3M231.22 353V354.3M234.98 353V354.3M236.86 353V354.3M238.74 353V354.3M240.62 353V354.3M242.5 353V354.3M244.38 353V354.3M246.26 353V354.3M248.14 353V354.3M250.02 353V354.3M253.78 353V354.3M255.66 353V354.3M257.54 353V354.3M259.42 353V354.3M261.3 353V354.3M263.18 353V354.3M265.06 353V354.3M266.94 353V354.3M268.82 353V354.3M272.58 353V354.3M274.46 353V354.3M276.34 353V354.3M278.22 353V354.3M280.1 353V354.3M281.98 353V354.3M283.86 353V354.3M285.74 353V354.3M287.62 353V354.3M291.38 353V354.3M293.26 353V354.3M295.14 353V354.3M297.02 353V354.3M298.9 353V354.3M300.78 353V354.3M302.66 353V354.3M304.54 353V354.3M306.42 353V354.3M310.18 353V354.3M312.06 353V354.3M313.94 353V354.3M315.82 353V354.3M317.7 353V354.3M319.58 353V354.3M321.46 353V354.3M323.34 353V354.3M325.22 353V354.3M328.98 353V354.3M330.86 353V354.3M332.74 353V354.3M334.62 353V354.3M336.5 353V354.3M338.38 353V354.3M340.26 353V354.3"/>
<path class="ar" d="M193.1 305.5L195.5 300.3L197.9 305.5L195.5 303.7ZM347.1 350.6L352.3 353L347.1 355.4L348.9 353Z"/>
<text class="t2" x="190.3" y="314.2" text-anchor="end">0.1</text>
<text class="t2" x="190.3" y="322.3" text-anchor="end">0.08</text>
<text class="t2" x="190.3" y="330.4" text-anchor="end">0.06</text>
<text class="t2" x="190.3" y="338.5" text-anchor="end">0.04</text>
<text class="t2" x="190.3" y="346.6" text-anchor="end">0.02</text>
<text class="t2" x="190.3" y="354.7" text-anchor="end">0</text>
<text class="t2" x="195.5" y="361.1" text-anchor="middle">0</text>
<text class="t2" x="214.3" y="361.1" text-anchor="middle">0.05</text>
<text class="t2" x="233.1" y="361.1" text-anchor="middle">0.1</text>
<text class="t2" x="251.9" y="361.1" text-anchor="middle">0.15</text>
<text class="t2" x="270.7" y="361.1" text-anchor="middle">0.2</text>
<text class="t2" x="289.5" y="361.1" text-anchor="middle">0.25</text>
<text class="t2" x="308.3" y="361.1" text-anchor="middle">0.3</text>
<text class="t2" x="327.1" y="361.1" text-anchor="middle">0.35</text>
<text class="t2" x="334" y="361.1">mm</text>
<text class="t2" x="180.9" y="305.3" textLength="9.1" lengthAdjust="spacingAndGlyphs" xml:space="preserve">&#181;m2</text>
<text class="t2" x="190.5" y="373.8" textLength="34.2" lengthAdjust="spacingAndGlyphs" xml:space="preserve">Zoom factor: x4</text>
<text class="t2" x="246.9" y="373.8" textLength="33" lengthAdjust="spacingAndGlyphs" xml:space="preserve">Nb iterations: 1</text>
<text class="t2" x="303" y="373.8" textLength="29.1" lengthAdjust="spacingAndGlyphs" xml:space="preserve">Smoothing: 0</text>
</g>
<rect x="229.06" y="282.7" width="21.3" height="5.9" fill="#fff"/>
<text class="t2" x="239.71" y="287.4" text-anchor="middle" textLength="20.5" lengthAdjust="spacingAndGlyphs">0.117mm</text>
<rect x="229.01" y="288.3" width="21.4" height="5.9" fill="#fff"/>
<text class="t2" x="239.71" y="293" text-anchor="middle" textLength="20.6" lengthAdjust="spacingAndGlyphs">(0.18&#181;m)</text>
<rect x="223.4" y="294.5" width="21.3" height="5.9" fill="#fff"/>
<text class="t2" x="234.05" y="299.2" text-anchor="middle" textLength="20.5" lengthAdjust="spacingAndGlyphs">0.102mm</text>
<rect x="222.2" y="300.3" width="23.7" height="5.9" fill="#fff"/>
<text class="t2" x="234.05" y="305" text-anchor="middle" textLength="22.9" lengthAdjust="spacingAndGlyphs">(0.166&#181;m)</text>
<rect x="242.63" y="294.5" width="21.3" height="5.9" fill="#fff"/>
<text class="t2" x="253.28" y="299.2" text-anchor="middle" textLength="20.5" lengthAdjust="spacingAndGlyphs">0.153mm</text>
<rect x="241.43" y="300.3" width="23.7" height="5.9" fill="#fff"/>
<text class="t2" x="253.28" y="305" text-anchor="middle" textLength="22.9" lengthAdjust="spacingAndGlyphs">(0.134&#181;m)</text>
<g>
<path class="s0" d="M214.3 449.5V489.5M233.1 449.5V489.5M251.9 449.5V489.5M270.7 449.5V489.5M289.5 449.5V489.5M308.3 449.5V489.5M327.1 449.5V489.5M195.5 457.5H340.5M195.5 465.5H340.5M195.5 473.5H340.5M195.5 481.5H340.5"/>
<polygon points="195.5,489.5 195.5,479.21 200.12,479.21 202.33,477.73 203.81,476.25 204.99,477.73 206.02,474.78 207.06,478.47 208.24,475.81 209.42,479.21 210.6,475.52 211.78,477.73 212.96,474.78 214.14,478.47 215.32,476.99 216.35,473.3 217.39,471.83 218.57,470.79 220.04,474.04 221.52,477.73 222.55,478.76 223.29,465.18 224.47,471.09 225.65,475.52 226.83,477.73 227.72,469.61 228.9,471.83 230.38,473.3 232.15,475.22 234.07,469.61 236.28,465.18 239.68,458.84 241.45,466.66 243.22,474.04 244.84,478.47 248.83,478.47 251.04,471.83 253.7,465.18 255.47,469.61 257.68,474.04 260.63,479.5 263.59,474.04 265,470.64 267.95,466.55 269.91,469.82 274,473.91 278.91,478.49 284.64,476.36 293.64,473.42 302.64,471.78 312.46,470.15 319,472.27 330.46,475.55 340.5,478 340.5,489.5" fill="#fee5c6"/>
<polyline class="cv" points="195.5,479.21 200.12,479.21 202.33,477.73 203.81,476.25 204.99,477.73 206.02,474.78 207.06,478.47 208.24,475.81 209.42,479.21 210.6,475.52 211.78,477.73 212.96,474.78 214.14,478.47 215.32,476.99 216.35,473.3 217.39,471.83 218.57,470.79 220.04,474.04 221.52,477.73 222.55,478.76 223.29,465.18 224.47,471.09 225.65,475.52 226.83,477.73 227.72,469.61 228.9,471.83 230.38,473.3 232.15,475.22 234.07,469.61 236.28,465.18 239.68,458.84 241.45,466.66 243.22,474.04 244.84,478.47 248.83,478.47 251.04,471.83 253.7,465.18 255.47,469.61 257.68,474.04 260.63,479.5 263.59,474.04 265,470.64 267.95,466.55 269.91,469.82 274,473.91 278.91,478.49 284.64,476.36 293.64,473.42 302.64,471.78 312.46,470.15 319,472.27 330.46,475.55 340.5,478" stroke="#5a9fd4" stroke-width="1.25"/>
<polyline class="cv" points="195.5,479.21 200.12,479.21 202.33,477.73 203.81,476.25 204.99,477.73 206.02,474.78 207.06,478.47 208.24,475.81 209.42,479.21 210.6,475.52 211.78,477.73 212.96,474.78 214.14,478.47 215.32,476.99 216.35,473.3" stroke="#2f86e4" stroke-width="0.9"/>
<path class="s7" d="M222.5 449.5V473.82M227.5 449.5V469.61M239.5 449.5V458.97M253.5 449.5V466.23M267.5 449.5V467.03M293.5 449.5V473.35"/>
<path class="s2" d="M195.5 449.5H340.5M192.5 449.5H195.5M192.5 457.5H195.5M192.5 465.5H195.5M192.5 473.5H195.5M192.5 481.5H195.5M192.5 489.5H195.5M195.5 489.5V492.6M214.3 489.5V492.6M233.1 489.5V492.6M251.9 489.5V492.6M270.7 489.5V492.6M289.5 489.5V492.6M308.3 489.5V492.6M327.1 489.5V492.6M195.5 489.5V437.9M195.5 489.5H351.9"/>
<path class="s6" d="M340.8 449.5V489.5"/>
<path class="s3" d="M193.9 453.5H195.5M193.9 461.5H195.5M193.9 469.5H195.5M193.9 477.5H195.5M193.9 485.5H195.5M197.38 489.5V490.8M199.26 489.5V490.8M201.14 489.5V490.8M203.02 489.5V490.8M204.9 489.5V490.8M206.78 489.5V490.8M208.66 489.5V490.8M210.54 489.5V490.8M212.42 489.5V490.8M216.18 489.5V490.8M218.06 489.5V490.8M219.94 489.5V490.8M221.82 489.5V490.8M223.7 489.5V490.8M225.58 489.5V490.8M227.46 489.5V490.8M229.34 489.5V490.8M231.22 489.5V490.8M234.98 489.5V490.8M236.86 489.5V490.8M238.74 489.5V490.8M240.62 489.5V490.8M242.5 489.5V490.8M244.38 489.5V490.8M246.26 489.5V490.8M248.14 489.5V490.8M250.02 489.5V490.8M253.78 489.5V490.8M255.66 489.5V490.8M257.54 489.5V490.8M259.42 489.5V490.8M261.3 489.5V490.8M263.18 489.5V490.8M265.06 489.5V490.8M266.94 489.5V490.8M268.82 489.5V490.8M272.58 489.5V490.8M274.46 489.5V490.8M276.34 489.5V490.8M278.22 489.5V490.8M280.1 489.5V490.8M281.98 489.5V490.8M283.86 489.5V490.8M285.74 489.5V490.8M287.62 489.5V490.8M291.38 489.5V490.8M293.26 489.5V490.8M295.14 489.5V490.8M297.02 489.5V490.8M298.9 489.5V490.8M300.78 489.5V490.8M302.66 489.5V490.8M304.54 489.5V490.8M306.42 489.5V490.8M310.18 489.5V490.8M312.06 489.5V490.8M313.94 489.5V490.8M315.82 489.5V490.8M317.7 489.5V490.8M319.58 489.5V490.8M321.46 489.5V490.8M323.34 489.5V490.8M325.22 489.5V490.8M328.98 489.5V490.8M330.86 489.5V490.8M332.74 489.5V490.8M334.62 489.5V490.8M336.5 489.5V490.8M338.38 489.5V490.8M340.26 489.5V490.8"/>
<path class="ar" d="M193.1 442.5L195.5 437.3L197.9 442.5L195.5 440.7ZM347.1 487.1L352.3 489.5L347.1 491.9L348.9 489.5Z"/>
<text class="t2" x="190.3" y="450.4" text-anchor="end">0.1</text>
<text class="t2" x="190.3" y="458.5" text-anchor="end">0.08</text>
<text class="t2" x="190.3" y="466.6" text-anchor="end">0.06</text>
<text class="t2" x="190.3" y="474.7" text-anchor="end">0.04</text>
<text class="t2" x="190.3" y="482.8" text-anchor="end">0.02</text>
<text class="t2" x="190.3" y="490.9" text-anchor="end">0</text>
<text class="t2" x="195.5" y="497.6" text-anchor="middle">0</text>
<text class="t2" x="214.3" y="497.6" text-anchor="middle">0.05</text>
<text class="t2" x="233.1" y="497.6" text-anchor="middle">0.1</text>
<text class="t2" x="251.9" y="497.6" text-anchor="middle">0.15</text>
<text class="t2" x="270.7" y="497.6" text-anchor="middle">0.2</text>
<text class="t2" x="289.5" y="497.6" text-anchor="middle">0.25</text>
<text class="t2" x="308.3" y="497.6" text-anchor="middle">0.3</text>
<text class="t2" x="327.1" y="497.6" text-anchor="middle">0.35</text>
<text class="t2" x="334" y="497.6">mm</text>
<text class="t2" x="180.9" y="442.1" textLength="9.1" lengthAdjust="spacingAndGlyphs" xml:space="preserve">&#181;m2</text>
<text class="t2" x="190.5" y="510.6" textLength="34.2" lengthAdjust="spacingAndGlyphs" xml:space="preserve">Zoom factor: x4</text>
<text class="t2" x="246.9" y="510.6" textLength="33" lengthAdjust="spacingAndGlyphs" xml:space="preserve">Nb iterations: 1</text>
<text class="t2" x="303" y="510.6" textLength="29.1" lengthAdjust="spacingAndGlyphs" xml:space="preserve">Smoothing: 0</text>
</g>
<rect x="215.82" y="419" width="23.8" height="5.9" fill="#fff"/>
<text class="t2" x="227.72" y="423.7" text-anchor="middle" textLength="23" lengthAdjust="spacingAndGlyphs">0.0852mm</text>
<rect x="217.02" y="425.3" width="21.4" height="5.9" fill="#fff"/>
<text class="t2" x="227.72" y="430" text-anchor="middle" textLength="20.6" lengthAdjust="spacingAndGlyphs">(0.17&#181;m)</text>
<rect x="242.63" y="419" width="21.3" height="5.9" fill="#fff"/>
<text class="t2" x="253.28" y="423.7" text-anchor="middle" textLength="20.5" lengthAdjust="spacingAndGlyphs">0.153mm</text>
<rect x="242.58" y="425.3" width="21.4" height="5.9" fill="#fff"/>
<text class="t2" x="253.28" y="430" text-anchor="middle" textLength="20.6" lengthAdjust="spacingAndGlyphs">(0.19&#181;m)</text>
<rect x="283.35" y="419" width="21.3" height="5.9" fill="#fff"/>
<text class="t2" x="294" y="423.7" text-anchor="middle" textLength="20.5" lengthAdjust="spacingAndGlyphs">0.261mm</text>
<rect x="282.15" y="425.3" width="23.7" height="5.9" fill="#fff"/>
<text class="t2" x="294" y="430" text-anchor="middle" textLength="22.9" lengthAdjust="spacingAndGlyphs">(0.124&#181;m)</text>
<rect x="210.92" y="431.3" width="23.8" height="5.9" fill="#fff"/>
<text class="t2" x="222.82" y="436" text-anchor="middle" textLength="23" lengthAdjust="spacingAndGlyphs">0.0722mm</text>
<rect x="210.97" y="437.2" width="23.7" height="5.9" fill="#fff"/>
<text class="t2" x="222.82" y="441.9" text-anchor="middle" textLength="22.9" lengthAdjust="spacingAndGlyphs">(0.195&#181;m)</text>
<rect x="229.06" y="431.3" width="21.3" height="5.9" fill="#fff"/>
<text class="t2" x="239.71" y="436" text-anchor="middle" textLength="20.5" lengthAdjust="spacingAndGlyphs">0.117mm</text>
<rect x="229.01" y="437.2" width="21.4" height="5.9" fill="#fff"/>
<text class="t2" x="239.71" y="441.9" text-anchor="middle" textLength="20.6" lengthAdjust="spacingAndGlyphs">(0.23&#181;m)</text>
<rect x="256.96" y="431.3" width="21.3" height="5.9" fill="#fff"/>
<text class="t2" x="267.61" y="436" text-anchor="middle" textLength="20.5" lengthAdjust="spacingAndGlyphs">0.191mm</text>
<rect x="255.76" y="437.2" width="23.7" height="5.9" fill="#fff"/>
<text class="t2" x="267.61" y="441.9" text-anchor="middle" textLength="22.9" lengthAdjust="spacingAndGlyphs">(0.184&#181;m)</text>
<g>
<path class="s0" d="M428.8 19.5V92.5M454.1 19.5V92.5M479.4 19.5V92.5M504.7 19.5V92.5M403.5 24.08H529.5M403.5 33.2H529.5M403.5 42.33H529.5M403.5 51.45H529.5M403.5 60.58H529.5M403.5 78.83H529.5M403.5 87.95H529.5"/>
<path class="s8" d="M403.5 69.7H529.5"/>
<path class="s2" d="M401.5 19.5H529.5M529.5 19.5V92.5M400.5 24.08H403.5M400.5 33.2H403.5M400.5 42.33H403.5M400.5 51.45H403.5M400.5 60.58H403.5M400.5 69.7H403.5M400.5 78.83H403.5M400.5 87.95H403.5M403.5 92.5V95.6M428.8 92.5V95.6M454.1 92.5V95.6M479.4 92.5V95.6M504.7 92.5V95.6M401.5 92.5H403.5M403.5 92.5V7.9M403.5 92.5H542.7"/>
<path class="s3" d="M529.5 24.08H531.1M401.9 28.64H403.5M529.5 28.64H531.1M529.5 33.2H531.1M401.9 37.76H403.5M529.5 37.76H531.1M529.5 42.33H531.1M401.9 46.89H403.5M529.5 46.89H531.1M529.5 51.45H531.1M401.9 56.01H403.5M529.5 56.01H531.1M529.5 60.58H531.1M401.9 65.14H403.5M529.5 65.14H531.1M529.5 69.7H531.1M401.9 74.26H403.5M529.5 74.26H531.1M529.5 78.83H531.1M401.9 83.39H403.5M529.5 83.39H531.1M529.5 87.95H531.1M401.9 92.51H403.5M529.5 92.51H531.1M406.03 92.5V94.1M408.56 92.5V94.1M411.09 92.5V94.1M413.62 92.5V94.1M416.15 92.5V94.1M418.68 92.5V94.1M421.21 92.5V94.1M423.74 92.5V94.1M426.27 92.5V94.1M431.33 92.5V94.1M433.86 92.5V94.1M436.39 92.5V94.1M438.92 92.5V94.1M441.45 92.5V94.1M443.98 92.5V94.1M446.51 92.5V94.1M449.04 92.5V94.1M451.57 92.5V94.1M456.63 92.5V94.1M459.16 92.5V94.1M461.69 92.5V94.1M464.22 92.5V94.1M466.75 92.5V94.1M469.28 92.5V94.1M471.81 92.5V94.1M474.34 92.5V94.1M476.87 92.5V94.1M481.93 92.5V94.1M484.46 92.5V94.1M486.99 92.5V94.1M489.52 92.5V94.1M492.05 92.5V94.1M494.58 92.5V94.1M497.11 92.5V94.1M499.64 92.5V94.1M502.17 92.5V94.1M507.23 92.5V94.1M509.77 92.5V94.1M512.3 92.5V94.1M514.83 92.5V94.1M517.36 92.5V94.1M519.89 92.5V94.1M522.42 92.5V94.1M524.95 92.5V94.1M527.48 92.5V94.1"/>
<path class="s9" d="M406.03 18.1V19.5M408.56 18.1V19.5M411.09 18.1V19.5M413.62 18.1V19.5M416.15 18.1V19.5M418.68 18.1V19.5M421.21 18.1V19.5M423.74 18.1V19.5M426.27 18.1V19.5M428.8 18.1V19.5M431.33 18.1V19.5M433.86 18.1V19.5M436.39 18.1V19.5M438.92 18.1V19.5M441.45 18.1V19.5M443.98 18.1V19.5M446.51 18.1V19.5M449.04 18.1V19.5M451.57 18.1V19.5M454.1 18.1V19.5M456.63 18.1V19.5M459.16 18.1V19.5M461.69 18.1V19.5M464.22 18.1V19.5M466.75 18.1V19.5M469.28 18.1V19.5M471.81 18.1V19.5M474.34 18.1V19.5M476.87 18.1V19.5M479.4 18.1V19.5M481.93 18.1V19.5M484.46 18.1V19.5M486.99 18.1V19.5M489.52 18.1V19.5M492.05 18.1V19.5M494.58 18.1V19.5M497.11 18.1V19.5M499.64 18.1V19.5M502.17 18.1V19.5M504.7 18.1V19.5M507.23 18.1V19.5M509.77 18.1V19.5M512.3 18.1V19.5M514.83 18.1V19.5M517.36 18.1V19.5M519.89 18.1V19.5M522.42 18.1V19.5M524.95 18.1V19.5M527.48 18.1V19.5"/>
<path class="ar" d="M401.1 12.5L403.5 7.3L405.9 12.5L403.5 10.7ZM537.9 90.1L543.1 92.5L537.9 94.9L539.7 92.5Z"/>
<polyline class="cv" points="403.17,23.12 405.38,25.33 408.33,30.94 412.76,38.62 417.19,45.26 421.62,51.9 426.04,57.8 428.26,60.02 433.42,64.45 439.33,69.91 443.76,73.3 447.45,75.81 451.14,76.25 457.04,76.4 460,76.44 464.98,75.11 469.13,74.78 473.28,76.11 478.76,78.93 484.91,81.09 491.55,83.42 495.7,85.41 499.85,85.08 504.84,81.76 513.14,78.93 521.44,76.77 526.42,75.61 529.41,75.61" stroke="#5fa4d8" stroke-width="1.15"/>
<text class="t3" x="397.4" y="26.06" text-anchor="end">1</text>
<text class="t3" x="397.4" y="35.18" text-anchor="end">0.8</text>
<text class="t3" x="397.4" y="44.3" text-anchor="end">0.6</text>
<text class="t3" x="397.4" y="53.43" text-anchor="end">0.4</text>
<text class="t3" x="397.4" y="62.55" text-anchor="end">0.2</text>
<text class="t3" x="397.4" y="71.68" text-anchor="end">0</text>
<text class="t3" x="397.4" y="80.81" text-anchor="end">-0.2</text>
<text class="t3" x="397.4" y="89.93" text-anchor="end">-0.4</text>
<text class="t3" x="403" y="101.08" text-anchor="middle">0</text>
<text class="t3" x="428.8" y="101.08" text-anchor="middle">50</text>
<text class="t3" x="454.1" y="101.08" text-anchor="middle">100</text>
<text class="t3" x="479.4" y="101.08" text-anchor="middle">150</text>
<text class="t3" x="504.3" y="101.08" text-anchor="middle">200</text>
<text class="t3" x="510.6" y="101.08">&#181;m</text>
<text class="t3" x="411" y="11.18" textLength="42.2" lengthAdjust="spacingAndGlyphs" xml:space="preserve">Length = 249 &#181;m</text>
<text class="t3" x="458.6" y="11.18" textLength="22.5" lengthAdjust="spacingAndGlyphs" xml:space="preserve">Pt = 1.38</text>
<text class="t3" x="489.1" y="11.18" textLength="28.5" lengthAdjust="spacingAndGlyphs" xml:space="preserve">Scale = 1.6</text>
</g>
<g>
<path class="s0" d="M427.81 156.5V229.5M454.11 156.5V229.5M480.42 156.5V229.5M506.72 156.5V229.5M401.5 161.07H532.5M401.5 170.2H532.5M401.5 179.32H532.5M401.5 188.45H532.5M401.5 197.57H532.5M401.5 215.82H532.5M401.5 224.95H532.5"/>
<path class="s4" d="M401.5 206.5H532.5"/>
<path class="s2" d="M399.5 156.5H532.5M532.5 156.5V229.5M398.5 161.07H401.5M398.5 170.2H401.5M398.5 179.32H401.5M398.5 188.45H401.5M398.5 197.57H401.5M398.5 206.7H401.5M398.5 215.82H401.5M398.5 224.95H401.5M401.5 229.5V232.6M427.81 229.5V232.6M454.11 229.5V232.6M480.42 229.5V232.6M506.72 229.5V232.6M399.5 229.5H401.5M401.5 229.5V144.9M401.5 229.5H545.7"/>
<path class="s3" d="M532.5 161.07H534.1M399.9 165.64H401.5M532.5 165.64H534.1M532.5 170.2H534.1M399.9 174.76H401.5M532.5 174.76H534.1M532.5 179.32H534.1M399.9 183.89H401.5M532.5 183.89H534.1M532.5 188.45H534.1M399.9 193.01H401.5M532.5 193.01H534.1M532.5 197.57H534.1M399.9 202.14H401.5M532.5 202.14H534.1M532.5 206.7H534.1M399.9 211.26H401.5M532.5 211.26H534.1M532.5 215.82H534.1M399.9 220.39H401.5M532.5 220.39H534.1M532.5 224.95H534.1M399.9 229.51H401.5M532.5 229.51H534.1M404.13 229.5V231.1M406.76 229.5V231.1M409.39 229.5V231.1M412.02 229.5V231.1M414.65 229.5V231.1M417.28 229.5V231.1M419.91 229.5V231.1M422.54 229.5V231.1M425.17 229.5V231.1M430.44 229.5V231.1M433.07 229.5V231.1M435.7 229.5V231.1M438.33 229.5V231.1M440.96 229.5V231.1M443.59 229.5V231.1M446.22 229.5V231.1M448.85 229.5V231.1M451.48 229.5V231.1M456.74 229.5V231.1M459.37 229.5V231.1M462 229.5V231.1M464.63 229.5V231.1M467.26 229.5V231.1M469.89 229.5V231.1M472.52 229.5V231.1M475.15 229.5V231.1M477.79 229.5V231.1M483.05 229.5V231.1M485.68 229.5V231.1M488.31 229.5V231.1M490.94 229.5V231.1M493.57 229.5V231.1M496.2 229.5V231.1M498.83 229.5V231.1M501.46 229.5V231.1M504.09 229.5V231.1M509.35 229.5V231.1M511.98 229.5V231.1M514.61 229.5V231.1M517.24 229.5V231.1M519.87 229.5V231.1M522.5 229.5V231.1M525.13 229.5V231.1M527.77 229.5V231.1M530.4 229.5V231.1"/>
<path class="s9" d="M404.13 155.1V156.5M406.76 155.1V156.5M409.39 155.1V156.5M412.02 155.1V156.5M414.65 155.1V156.5M417.28 155.1V156.5M419.91 155.1V156.5M422.54 155.1V156.5M425.17 155.1V156.5M427.81 155.1V156.5M430.44 155.1V156.5M433.07 155.1V156.5M435.7 155.1V156.5M438.33 155.1V156.5M440.96 155.1V156.5M443.59 155.1V156.5M446.22 155.1V156.5M448.85 155.1V156.5M451.48 155.1V156.5M454.11 155.1V156.5M456.74 155.1V156.5M459.37 155.1V156.5M462 155.1V156.5M464.63 155.1V156.5M467.26 155.1V156.5M469.89 155.1V156.5M472.52 155.1V156.5M475.15 155.1V156.5M477.79 155.1V156.5M480.42 155.1V156.5M483.05 155.1V156.5M485.68 155.1V156.5M488.31 155.1V156.5M490.94 155.1V156.5M493.57 155.1V156.5M496.2 155.1V156.5M498.83 155.1V156.5M501.46 155.1V156.5M504.09 155.1V156.5M506.72 155.1V156.5M509.35 155.1V156.5M511.98 155.1V156.5M514.61 155.1V156.5M517.24 155.1V156.5M519.87 155.1V156.5M522.5 155.1V156.5M525.13 155.1V156.5M527.77 155.1V156.5M530.4 155.1V156.5"/>
<path class="ar" d="M399.1 149.5L401.5 144.3L403.9 149.5L401.5 147.7ZM540.9 227.1L546.1 229.5L540.9 231.9L542.7 229.5Z"/>
<polyline class="cv" points="401.25,157.64 401.69,159.86 402.72,165.76 403.9,174.62 405.38,179.78 407.15,182 409.81,182.73 412.76,184.21 415.71,187.16 418.66,192.33 421.62,196.02 424.27,198.97 426.78,199.71 429,201.92 431.21,204.14 433.42,205.61 435.2,204.43 436.67,203.4 438.15,205.32 440.07,209.3 442.28,212.25 443.76,213.29 445.53,211.81 447.45,210.48 449.37,212.7 451.43,215.65 453.35,216.68 454.83,215.65 456.3,214.76 458.52,215.94 460,217.09 463.32,214.93 466.64,213.77 469.96,211.61 472.45,210.28 474.95,210.78 477.44,210.45 479.93,209.45 482.42,206.96 484.08,207.46 486.57,210.45 489.89,212.11 492.38,209.95 494.04,209.12 496.53,211.11 499.02,213.44 501.51,211.61 503.51,210.78 506.5,211.61 509.82,212.77 512.81,214.93 515.63,212.77 518.12,208.29 519.78,209.95 521.77,214.1 524.43,215.76 526.42,214.43 528.42,212.77 530.57,213.44 532.24,213.77" stroke="#5fa4d8" stroke-width="1.15"/>
<text class="t3" x="395.4" y="163.05" text-anchor="end">1</text>
<text class="t3" x="395.4" y="172.18" text-anchor="end">0.8</text>
<text class="t3" x="395.4" y="181.3" text-anchor="end">0.6</text>
<text class="t3" x="395.4" y="190.43" text-anchor="end">0.4</text>
<text class="t3" x="395.4" y="199.55" text-anchor="end">0.2</text>
<text class="t3" x="395.4" y="208.68" text-anchor="end">0</text>
<text class="t3" x="395.4" y="217.8" text-anchor="end">-0.2</text>
<text class="t3" x="395.4" y="226.93" text-anchor="end">-0.4</text>
<text class="t3" x="401" y="238.08" text-anchor="middle">0</text>
<text class="t3" x="427.81" y="238.08" text-anchor="middle">50</text>
<text class="t3" x="454.11" y="238.08" text-anchor="middle">100</text>
<text class="t3" x="480.42" y="238.08" text-anchor="middle">150</text>
<text class="t3" x="506.32" y="238.08" text-anchor="middle">200</text>
<text class="t3" x="512.62" y="238.08">&#181;m</text>
<text class="t3" x="413.3" y="148.18" textLength="42" lengthAdjust="spacingAndGlyphs" xml:space="preserve">Length = 249 &#181;m</text>
<text class="t3" x="459.1" y="148.18" textLength="21.4" lengthAdjust="spacingAndGlyphs" xml:space="preserve">Pt = 1.27</text>
<text class="t3" x="488.1" y="148.18" textLength="27" lengthAdjust="spacingAndGlyphs" xml:space="preserve">Scale = 1.6</text>
</g>
<g>
<path class="s0" d="M428.8 292.5V365.5M454.1 292.5V365.5M479.4 292.5V365.5M504.7 292.5V365.5M403.5 297.07H529.5M403.5 306.2H529.5M403.5 315.32H529.5M403.5 324.45H529.5M403.5 333.57H529.5M403.5 351.82H529.5M403.5 360.95H529.5"/>
<path class="s8" d="M403.5 343.1H529.5"/>
<path class="s2" d="M401.5 292.5H529.5M529.5 292.5V365.5M400.5 297.07H403.5M400.5 306.2H403.5M400.5 315.32H403.5M400.5 324.45H403.5M400.5 333.57H403.5M400.5 342.7H403.5M400.5 351.82H403.5M400.5 360.95H403.5M403.5 365.5V368.6M428.8 365.5V368.6M454.1 365.5V368.6M479.4 365.5V368.6M504.7 365.5V368.6M401.5 365.5H403.5M403.5 365.5V280.9M403.5 365.5H542.7"/>
<path class="s3" d="M529.5 297.07H531.1M401.9 301.64H403.5M529.5 301.64H531.1M529.5 306.2H531.1M401.9 310.76H403.5M529.5 310.76H531.1M529.5 315.32H531.1M401.9 319.89H403.5M529.5 319.89H531.1M529.5 324.45H531.1M401.9 329.01H403.5M529.5 329.01H531.1M529.5 333.57H531.1M401.9 338.14H403.5M529.5 338.14H531.1M529.5 342.7H531.1M401.9 347.26H403.5M529.5 347.26H531.1M529.5 351.82H531.1M401.9 356.39H403.5M529.5 356.39H531.1M529.5 360.95H531.1M401.9 365.51H403.5M529.5 365.51H531.1M406.03 365.5V367.1M408.56 365.5V367.1M411.09 365.5V367.1M413.62 365.5V367.1M416.15 365.5V367.1M418.68 365.5V367.1M421.21 365.5V367.1M423.74 365.5V367.1M426.27 365.5V367.1M431.33 365.5V367.1M433.86 365.5V367.1M436.39 365.5V367.1M438.92 365.5V367.1M441.45 365.5V367.1M443.98 365.5V367.1M446.51 365.5V367.1M449.04 365.5V367.1M451.57 365.5V367.1M456.63 365.5V367.1M459.16 365.5V367.1M461.69 365.5V367.1M464.22 365.5V367.1M466.75 365.5V367.1M469.28 365.5V367.1M471.81 365.5V367.1M474.34 365.5V367.1M476.87 365.5V367.1M481.93 365.5V367.1M484.46 365.5V367.1M486.99 365.5V367.1M489.52 365.5V367.1M492.05 365.5V367.1M494.58 365.5V367.1M497.11 365.5V367.1M499.64 365.5V367.1M502.17 365.5V367.1M507.23 365.5V367.1M509.77 365.5V367.1M512.3 365.5V367.1M514.83 365.5V367.1M517.36 365.5V367.1M519.89 365.5V367.1M522.42 365.5V367.1M524.95 365.5V367.1M527.48 365.5V367.1"/>
<path class="s9" d="M406.03 291.1V292.5M408.56 291.1V292.5M411.09 291.1V292.5M413.62 291.1V292.5M416.15 291.1V292.5M418.68 291.1V292.5M421.21 291.1V292.5M423.74 291.1V292.5M426.27 291.1V292.5M428.8 291.1V292.5M431.33 291.1V292.5M433.86 291.1V292.5M436.39 291.1V292.5M438.92 291.1V292.5M441.45 291.1V292.5M443.98 291.1V292.5M446.51 291.1V292.5M449.04 291.1V292.5M451.57 291.1V292.5M454.1 291.1V292.5M456.63 291.1V292.5M459.16 291.1V292.5M461.69 291.1V292.5M464.22 291.1V292.5M466.75 291.1V292.5M469.28 291.1V292.5M471.81 291.1V292.5M474.34 291.1V292.5M476.87 291.1V292.5M479.4 291.1V292.5M481.93 291.1V292.5M484.46 291.1V292.5M486.99 291.1V292.5M489.52 291.1V292.5M492.05 291.1V292.5M494.58 291.1V292.5M497.11 291.1V292.5M499.64 291.1V292.5M502.17 291.1V292.5M504.7 291.1V292.5M507.23 291.1V292.5M509.77 291.1V292.5M512.3 291.1V292.5M514.83 291.1V292.5M517.36 291.1V292.5M519.89 291.1V292.5M522.42 291.1V292.5M524.95 291.1V292.5M527.48 291.1V292.5"/>
<path class="ar" d="M401.1 285.5L403.5 280.3L405.9 285.5L403.5 283.7ZM537.9 363.1L543.1 365.5L537.9 367.9L539.7 365.5Z"/>
<polyline class="cv" points="403.46,312.39 406.86,317.26 411.28,322.42 414.97,326.56 418.66,328.77 423.09,330.99 428.26,333.05 432.69,335.41 436.08,336.45 440.07,335.41 443.76,335.12 447.45,334.23 451.14,335.41 454.83,336 458.52,337.48 460,338.15 464.98,341.47 469.96,344.29 474.95,347.11 479.93,349.27 484.91,350.93 489.89,352.59 495.7,354.75 499.85,355.42 504.01,355.91 508.99,356.74 513.14,358.4 517.29,360.07 522.27,360.4 526.42,361.23 529.41,362.06" stroke="#5fa4d8" stroke-width="1.15"/>
<text class="t3" x="397.4" y="299.06" text-anchor="end">1</text>
<text class="t3" x="397.4" y="308.18" text-anchor="end">0.8</text>
<text class="t3" x="397.4" y="317.31" text-anchor="end">0.6</text>
<text class="t3" x="397.4" y="326.43" text-anchor="end">0.4</text>
<text class="t3" x="397.4" y="335.56" text-anchor="end">0.2</text>
<text class="t3" x="397.4" y="344.68" text-anchor="end">0</text>
<text class="t3" x="397.4" y="353.81" text-anchor="end">-0.2</text>
<text class="t3" x="397.4" y="362.93" text-anchor="end">-0.4</text>
<text class="t3" x="403" y="374.08" text-anchor="middle">0</text>
<text class="t3" x="428.8" y="374.08" text-anchor="middle">50</text>
<text class="t3" x="454.1" y="374.08" text-anchor="middle">100</text>
<text class="t3" x="479.4" y="374.08" text-anchor="middle">150</text>
<text class="t3" x="504.3" y="374.08" text-anchor="middle">200</text>
<text class="t3" x="510.6" y="374.08">&#181;m</text>
<text class="t3" x="411" y="284.18" textLength="42.2" lengthAdjust="spacingAndGlyphs" xml:space="preserve">Length = 249 &#181;m</text>
<text class="t3" x="458.6" y="284.18" textLength="22.5" lengthAdjust="spacingAndGlyphs" xml:space="preserve">Pt = 1.08</text>
<text class="t3" x="489.1" y="284.18" textLength="28.5" lengthAdjust="spacingAndGlyphs" xml:space="preserve">Scale = 1.6</text>
</g>
<g>
<path class="s0" d="M428.8 429.5V502.5M454.1 429.5V502.5M479.4 429.5V502.5M504.7 429.5V502.5M403.5 434.07H529.5M403.5 443.2H529.5M403.5 452.32H529.5M403.5 461.45H529.5M403.5 470.57H529.5M403.5 488.82H529.5M403.5 497.95H529.5"/>
<path class="s4" d="M403.5 479.5H529.5"/>
<path class="s2" d="M401.5 429.5H529.5M529.5 429.5V502.5M400.5 434.07H403.5M400.5 443.2H403.5M400.5 452.32H403.5M400.5 461.45H403.5M400.5 470.57H403.5M400.5 479.7H403.5M400.5 488.82H403.5M400.5 497.95H403.5M403.5 502.5V505.6M428.8 502.5V505.6M454.1 502.5V505.6M479.4 502.5V505.6M504.7 502.5V505.6M401.5 502.5H403.5M403.5 502.5V417.9M403.5 502.5H542.7"/>
<path class="s3" d="M529.5 434.07H531.1M401.9 438.64H403.5M529.5 438.64H531.1M529.5 443.2H531.1M401.9 447.76H403.5M529.5 447.76H531.1M529.5 452.32H531.1M401.9 456.89H403.5M529.5 456.89H531.1M529.5 461.45H531.1M401.9 466.01H403.5M529.5 466.01H531.1M529.5 470.57H531.1M401.9 475.14H403.5M529.5 475.14H531.1M529.5 479.7H531.1M401.9 484.26H403.5M529.5 484.26H531.1M529.5 488.82H531.1M401.9 493.39H403.5M529.5 493.39H531.1M529.5 497.95H531.1M401.9 502.51H403.5M529.5 502.51H531.1M406.03 502.5V504.1M408.56 502.5V504.1M411.09 502.5V504.1M413.62 502.5V504.1M416.15 502.5V504.1M418.68 502.5V504.1M421.21 502.5V504.1M423.74 502.5V504.1M426.27 502.5V504.1M431.33 502.5V504.1M433.86 502.5V504.1M436.39 502.5V504.1M438.92 502.5V504.1M441.45 502.5V504.1M443.98 502.5V504.1M446.51 502.5V504.1M449.04 502.5V504.1M451.57 502.5V504.1M456.63 502.5V504.1M459.16 502.5V504.1M461.69 502.5V504.1M464.22 502.5V504.1M466.75 502.5V504.1M469.28 502.5V504.1M471.81 502.5V504.1M474.34 502.5V504.1M476.87 502.5V504.1M481.93 502.5V504.1M484.46 502.5V504.1M486.99 502.5V504.1M489.52 502.5V504.1M492.05 502.5V504.1M494.58 502.5V504.1M497.11 502.5V504.1M499.64 502.5V504.1M502.17 502.5V504.1M507.23 502.5V504.1M509.77 502.5V504.1M512.3 502.5V504.1M514.83 502.5V504.1M517.36 502.5V504.1M519.89 502.5V504.1M522.42 502.5V504.1M524.95 502.5V504.1M527.48 502.5V504.1"/>
<path class="s9" d="M406.03 428.1V429.5M408.56 428.1V429.5M411.09 428.1V429.5M413.62 428.1V429.5M416.15 428.1V429.5M418.68 428.1V429.5M421.21 428.1V429.5M423.74 428.1V429.5M426.27 428.1V429.5M428.8 428.1V429.5M431.33 428.1V429.5M433.86 428.1V429.5M436.39 428.1V429.5M438.92 428.1V429.5M441.45 428.1V429.5M443.98 428.1V429.5M446.51 428.1V429.5M449.04 428.1V429.5M451.57 428.1V429.5M454.1 428.1V429.5M456.63 428.1V429.5M459.16 428.1V429.5M461.69 428.1V429.5M464.22 428.1V429.5M466.75 428.1V429.5M469.28 428.1V429.5M471.81 428.1V429.5M474.34 428.1V429.5M476.87 428.1V429.5M479.4 428.1V429.5M481.93 428.1V429.5M484.46 428.1V429.5M486.99 428.1V429.5M489.52 428.1V429.5M492.05 428.1V429.5M494.58 428.1V429.5M497.11 428.1V429.5M499.64 428.1V429.5M502.17 428.1V429.5M504.7 428.1V429.5M507.23 428.1V429.5M509.77 428.1V429.5M512.3 428.1V429.5M514.83 428.1V429.5M517.36 428.1V429.5M519.89 428.1V429.5M522.42 428.1V429.5M524.95 428.1V429.5M527.48 428.1V429.5"/>
<path class="ar" d="M401.1 422.5L403.5 417.3L405.9 422.5L403.5 420.7ZM537.9 500.1L543.1 502.5L537.9 504.9L539.7 502.5Z"/>
<polyline class="cv" points="403.46,442.45 404.2,447.62 405.38,456.47 406.56,463.85 408.04,467.99 410.1,469.46 412.76,469.46 414.97,471.97 417.93,475.66 420.88,477.43 424.57,477.43 428.26,476.25 431.95,477.43 436.67,475.37 440.8,477.43 444.49,476.25 449.96,475.66 452.91,478.32 455.56,479.35 457.78,475.96 460,475.15 464.15,477.97 467.47,479.63 471.62,480.13 474.95,482.12 480.76,482.45 484.91,484.61 487.9,486.27 491.55,482.45 494.04,484.11 497.36,487.43 501.51,486.11 506.5,486.44 511.48,487.1 514.8,486.11 518.12,484.45 522.27,486.77 526.42,489.59 529.41,490.92" stroke="#5fa4d8" stroke-width="1.15"/>
<text class="t3" x="397.4" y="436.06" text-anchor="end">1</text>
<text class="t3" x="397.4" y="445.18" text-anchor="end">0.8</text>
<text class="t3" x="397.4" y="454.31" text-anchor="end">0.6</text>
<text class="t3" x="397.4" y="463.43" text-anchor="end">0.4</text>
<text class="t3" x="397.4" y="472.56" text-anchor="end">0.2</text>
<text class="t3" x="397.4" y="481.68" text-anchor="end">0</text>
<text class="t3" x="397.4" y="490.81" text-anchor="end">-0.2</text>
<text class="t3" x="397.4" y="499.93" text-anchor="end">-0.4</text>
<text class="t3" x="403" y="511.08" text-anchor="middle">0</text>
<text class="t3" x="428.8" y="511.08" text-anchor="middle">50</text>
<text class="t3" x="454.1" y="511.08" text-anchor="middle">100</text>
<text class="t3" x="479.4" y="511.08" text-anchor="middle">150</text>
<text class="t3" x="504.3" y="511.08" text-anchor="middle">200</text>
<text class="t3" x="510.6" y="511.08">&#181;m</text>
<text class="t3" x="411" y="421.18" textLength="42.2" lengthAdjust="spacingAndGlyphs" xml:space="preserve">Length = 249 &#181;m</text>
<text class="t3" x="458.6" y="421.18" textLength="22.5" lengthAdjust="spacingAndGlyphs" xml:space="preserve">Pt = 1.04</text>
<text class="t3" x="489.1" y="421.18" textLength="28.5" lengthAdjust="spacingAndGlyphs" xml:space="preserve">Scale = 1.6</text>
</g>
</g>
<text class="lab" x="65.8" y="125.2" text-anchor="middle">(<tspan class="b">g</tspan>)</text>
<text class="lab" x="65.8" y="261.8" text-anchor="middle">(<tspan class="b">j</tspan>)</text>
<text class="lab" x="65.8" y="398.2" text-anchor="middle">(<tspan class="b">m</tspan>)</text>
<text class="lab" x="65.8" y="534.8" text-anchor="middle">(<tspan class="b">p</tspan>)</text>
<text class="lab" x="257.3" y="125.2" text-anchor="middle">(<tspan class="b">h</tspan>)</text>
<text class="lab" x="257.3" y="261.8" text-anchor="middle">(<tspan class="b">k</tspan>)</text>
<text class="lab" x="257.3" y="398.2" text-anchor="middle">(<tspan class="b">n</tspan>)</text>
<text class="lab" x="257.3" y="534.8" text-anchor="middle">(<tspan class="b">q</tspan>)</text>
<text class="lab" x="448.6" y="125.2" text-anchor="middle">(<tspan class="b">i</tspan>)</text>
<text class="lab" x="448.6" y="262" text-anchor="middle">(<tspan class="b">l</tspan>)</text>
<text class="lab" x="448.6" y="398.5" text-anchor="middle">(<tspan class="b">o</tspan>)</text>
<text class="lab" x="448.6" y="534.8" text-anchor="middle">(<tspan class="b">r</tspan>)</text>
</svg>
</body>
</html>
